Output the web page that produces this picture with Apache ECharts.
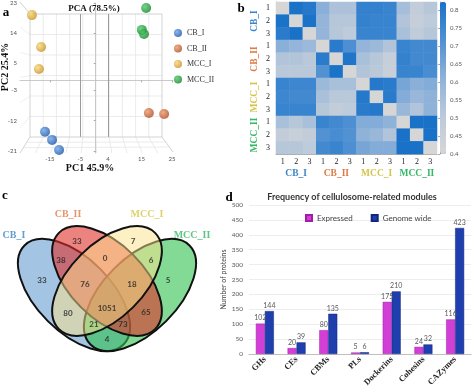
<!DOCTYPE html>
<html><head><meta charset="utf-8">
<script src="https://cdn.jsdelivr.net/npm/echarts@6/dist/echarts.min.js"></script>
<style>html,body{margin:0;padding:0;background:#fff}#c{width:474px;height:391px}</style>
</head><body><div id="c"></div>
<script>
// ---------------- data ----------------
const pcaGroups = ['CB_I', 'CB_II', 'MCC_I', 'MCC_II'];
const pcaCB_I = [[-16.6, -15.3], [-14.3, -17.7], [-12.0, -20.7]];
const pcaCB_II = [[17.4, -9.7], [22.4, -10.0]];
const pcaMCC_I = [[-20.9, 19.4], [-17.9, 9.9], [-18.6, 3.4]];
const pcaMCC_II = [[16.5, 21.5], [15.1, 15.0], [15.8, 13.8]];
const pcaXTicks = [-15, -5, 4, 15, 25];
const pcaYTicks = [-21, -12, -3, 5, 14, 23];

const heatGroups = ['CB_I', 'CB_II', 'MCC_I', 'MCC_II'];
const heatReplicates = ['1', '2', '3'];
const heatMatrix = [
  [0.40, 0.82, 0.80, 0.62, 0.54, 0.54, 0.77, 0.77, 0.76, 0.56, 0.48, 0.52],
  [0.82, 0.40, 0.82, 0.60, 0.52, 0.52, 0.77, 0.76, 0.76, 0.53, 0.47, 0.50],
  [0.79, 0.84, 0.40, 0.60, 0.52, 0.50, 0.76, 0.76, 0.76, 0.55, 0.49, 0.52],
  [0.62, 0.60, 0.58, 0.40, 0.79, 0.72, 0.60, 0.58, 0.53, 0.76, 0.74, 0.74],
  [0.53, 0.53, 0.51, 0.79, 0.40, 0.81, 0.55, 0.52, 0.47, 0.77, 0.74, 0.74],
  [0.51, 0.51, 0.51, 0.71, 0.82, 0.40, 0.53, 0.51, 0.46, 0.76, 0.76, 0.73],
  [0.76, 0.75, 0.75, 0.58, 0.55, 0.55, 0.40, 0.80, 0.79, 0.65, 0.62, 0.63],
  [0.75, 0.74, 0.74, 0.55, 0.51, 0.51, 0.80, 0.40, 0.79, 0.63, 0.59, 0.61],
  [0.76, 0.76, 0.76, 0.52, 0.48, 0.50, 0.79, 0.80, 0.40, 0.59, 0.53, 0.61],
  [0.55, 0.52, 0.55, 0.76, 0.74, 0.72, 0.63, 0.63, 0.61, 0.40, 0.83, 0.83],
  [0.48, 0.46, 0.48, 0.71, 0.73, 0.71, 0.61, 0.59, 0.53, 0.83, 0.40, 0.83],
  [0.52, 0.52, 0.50, 0.74, 0.76, 0.72, 0.65, 0.63, 0.63, 0.83, 0.83, 0.40]
];
const heatScaleTicks = [0.4, 0.45, 0.5, 0.55, 0.6, 0.65, 0.7, 0.75, 0.8];

const vennSets = ['CB_I', 'CB_II', 'MCC_I', 'MCC_II'];
const vennRegions = ['CB_I', 'CB_II', 'MCC_I', 'MCC_II', 'CB_I∩CB_II', 'CB_II∩MCC_I',
  'MCC_I∩MCC_II', 'CB_I∩CB_II∩MCC_I', 'CB_II∩MCC_I∩MCC_II', 'CB_I∩MCC_I', 'all',
  'CB_II∩MCC_II', 'CB_I∩MCC_I∩MCC_II', 'CB_I∩CB_II∩MCC_II', 'CB_I∩MCC_II'];
const vennCounts = [33, 33, 7, 5, 38, 0, 6, 76, 18, 80, 1051, 65, 21, 73, 4];

const modules = ['GHs', 'CEs', 'CBMs', 'PLs', 'Dockerins', 'Cohesins', 'CAZymes'];
const expressed = [102, 20, 80, 5, 175, 24, 116];
const genomeWide = [144, 39, 135, 6, 210, 32, 423];

// ---------------- layout (venn geometry in panel units) ----------------
const vennEllipseLayout = [ // cx, cy, rx, ry, angle(deg, clockwise); draw order CB_I, MCC_II, CB_II, MCC_I
  [74, 100, 70, 37, 45], [140, 100, 70, 37, -45], [107, 86, 68, 37, 45], [107, 86, 68, 37, -45]
];
const vennEllipseSet = [0, 3, 1, 2];
const vennFill = ['rgba(90,147,204,0.55)', 'rgba(224,48,42,0.6)', 'rgba(253,226,140,0.5)', 'rgba(47,194,76,0.6)'];
const vennRegionLayout = [[42, 85], [77, 46], [133, 46], [168, 85], [61, 65], [105, 63], [151, 65],
  [85, 89], [132, 89], [68, 118], [107, 113], [146, 117], [94, 129], [123, 129], [107, 144]];
const vennSetLabelLayout = [[14, 40], [68, 19], [147, 19], [192, 40]];
const setColors = ['#3a86c8', '#df7a45', '#d4c54a', '#35b865'];

const SERIF = 'Liberation Serif';
const SANS = 'Lato';

// ---------------- helpers ----------------
function sphere(light, dark) {
  return { type: 'radial', x: 0.35, y: 0.35, r: 0.75,
    colorStops: [{ offset: 0, color: light }, { offset: 1, color: dark }] };
}
const pcaColors = [sphere('#6aa6ee', '#1a4c9c'), sphere('#ee9a6a', '#a8461c'),
  sphere('#f8d87a', '#c48a1a'), sphere('#4acb66', '#127a28')];
const pcaData = [pcaCB_I, pcaCB_II, pcaMCC_I, pcaMCC_II];

const heatCols = [];
heatGroups.forEach(g => heatReplicates.forEach(r => heatCols.push(g + '-' + r)));
const heatData = [];
heatMatrix.forEach((row, i) => row.forEach((v, j) => heatData.push([j, i, v])));

// 3D box decoration for PCA
const boxG = [];
const wallL = 30, wallR = 162, wallT = 14, wallB = 137, frL = 20, frR = 173, frB = 153;
for (let k = 1; k < 10; k++) {
  const x = wallL + (wallR - wallL) * k / 10;
  boxG.push({ type: 'line', shape: { x1: x, y1: wallT, x2: x, y2: wallB }, style: { stroke: '#e6e6e6', lineWidth: 0.8 }, silent: true });
  const xf = frL + (frR - frL) * k / 10;
  boxG.push({ type: 'line', shape: { x1: x, y1: wallB, x2: xf, y2: frB }, style: { stroke: '#e6e6e6', lineWidth: 0.8 }, silent: true });
}
for (let k = 1; k < 6; k++) {
  const y = wallT + (wallB - wallT) * k / 6;
  boxG.push({ type: 'line', shape: { x1: wallL, y1: y, x2: wallR, y2: y }, style: { stroke: '#e6e6e6', lineWidth: 0.8 }, silent: true });
  boxG.push({ type: 'line', shape: { x1: frL, y1: 2 + (frB - 2) * k / 6, x2: wallL, y2: y }, style: { stroke: '#ececec', lineWidth: 0.8 }, silent: true });
}
for (let k = 1; k < 3; k++) {
  const t = k / 3;
  boxG.push({ type: 'line', shape: { x1: wallL + (frL - wallL) * t, y1: wallB + (frB - wallB) * t, x2: wallR + (frR - wallR) * t, y2: wallB + (frB - 1 - wallB) * t }, style: { stroke: '#e6e6e6', lineWidth: 0.8 }, silent: true });
}
boxG.push({ type: 'rect', shape: { x: wallL, y: wallT, width: wallR - wallL, height: wallB - wallT }, style: { fill: 'none', stroke: '#c8c8c8', lineWidth: 0.8 }, silent: true });
boxG.push({ type: 'polyline', shape: { points: [[frL, 2], [wallL, wallT]] }, style: { stroke: '#c8c8c8', lineWidth: 0.8 }, silent: true });
boxG.push({ type: 'polyline', shape: { points: [[wallL, wallB], [frL, frB]] }, style: { stroke: '#c8c8c8', lineWidth: 0.8 }, silent: true });
boxG.push({ type: 'polyline', shape: { points: [[wallR, wallB], [frR, frB - 1]] }, style: { stroke: '#c8c8c8', lineWidth: 0.8 }, silent: true });

function txt(x, y, text, opt) {
  return Object.assign({ type: 'text', x: x, y: y, silent: true, z: 10,
    style: Object.assign({ text: text, textAlign: 'center', textVerticalAlign: 'middle' }, opt) });
}
const texts = [
  txt(6, 13, 'a', { font: 'bold 13px ' + SERIF }),
  txt(241, 9, 'b', { font: 'bold 13px ' + SERIF }),
  txt(5, 196, 'c', { font: 'bold 13px ' + SERIF }),
  txt(229, 198, 'd', { font: 'bold 13px ' + SERIF }),
  txt(94, 9, 'PCA (78.5%)', { font: 'bold 9px ' + SERIF, fill: '#111' }),
  txt(90, 168, 'PC1 45.9%', { font: 'bold 10px ' + SERIF, fill: '#111' }),
  Object.assign(txt(5, 67, 'PC2 25.4%', { font: 'bold 10px ' + SERIF, fill: '#111' }), { rotation: Math.PI / 2 }),
  txt(352, 197, 'Frequency of cellulosome-related modules', { font: 'bold 9px ' + SANS, fill: '#333' })
];

const chart = echarts.init(document.getElementById('c'), null, { renderer: 'canvas' });
const groupRich = { g0: { color: setColors[0] }, g1: { color: setColors[1] }, g2: { color: setColors[2] }, g3: { color: setColors[3] } };

const option = {
  animation: false,
  backgroundColor: '#fff',
  graphic: boxG.map(g => Object.assign(g, { z: -10 })).concat(texts),
  grid: [
    { left: 20, top: 3, width: 153, height: 150 },
    { left: 276, top: 2, width: 161, height: 152 },
    { left: 440, top: 2, width: 6, height: 152 },
    { left: 0, top: 195, width: 220, height: 170 },
    { left: 249, top: 205, width: 222, height: 149 }
  ],
  legend: [
    { data: pcaGroups, orient: 'vertical', left: 174, top: 29, itemWidth: 8, itemHeight: 8, itemGap: 7.5,
      icon: 'circle', textStyle: { fontFamily: SERIF, fontSize: 8, color: '#333' }, padding: 0 },
    { data: ['Expressed', 'Genome wide'], left: 305, top: 214, itemWidth: 6, itemHeight: 6, itemGap: 18,
      icon: 'rect', textStyle: { fontFamily: SANS, fontSize: 8, color: '#444' }, padding: 0, itemTextGap: 4 }
  ],
  xAxis: [
    { gridIndex: 0, type: 'value', min: -24.8, max: 25.3,
      axisLine: { show: true, lineStyle: { color: '#bdbdbd', width: 0.8 } },
      axisTick: { show: true, customValues: pcaXTicks, length: 2, lineStyle: { color: '#aaa' } },
      axisLabel: { customValues: pcaXTicks, fontSize: 6, color: '#555', margin: 3, fontFamily: SANS },
      splitLine: { show: false } },
    { gridIndex: 1, type: 'category', data: heatCols, position: 'bottom',
      axisLine: { lineStyle: { color: '#aaa' } }, axisTick: { show: true, length: 2, inside: true, alignWithLabel: true, lineStyle: { color: '#aaa' } },
      axisLabel: { interval: 0, formatter: v => v.split('-')[1], fontFamily: SERIF, fontSize: 8, color: '#222', margin: 4 } },
    { gridIndex: 1, type: 'category', data: heatGroups, position: 'bottom', offset: 13,
      axisLine: { show: false }, axisTick: { show: false },
      axisLabel: { interval: 0, fontFamily: SERIF, fontWeight: 'bold', fontSize: 9.5, margin: 2,
        formatter: (v, i) => '{g' + i + '|' + v + '}', rich: groupRich } },
    { gridIndex: 2, type: 'value', show: false, min: 0, max: 1 },
    { gridIndex: 3, type: 'value', show: false, min: 0, max: 220 },
    { gridIndex: 4, type: 'category', data: modules,
      axisLine: { lineStyle: { color: '#bfbfbf' } }, axisTick: { show: false },
      axisLabel: { rotate: 45, interval: 0, fontFamily: SERIF, fontWeight: 'bold', fontSize: 8.5, color: '#222', margin: 4 } }
  ],
  yAxis: [
    { gridIndex: 0, type: 'value', min: -21.6, max: 23,
      axisLine: { show: true, lineStyle: { color: '#bdbdbd', width: 0.8 } },
      axisTick: { show: true, customValues: pcaYTicks, length: 2, lineStyle: { color: '#aaa' } },
      axisLabel: { customValues: pcaYTicks, fontSize: 6, color: '#555', margin: 3, fontFamily: SANS },
      splitLine: { show: false } },
    { gridIndex: 1, type: 'category', data: heatCols, inverse: true,
      axisLine: { lineStyle: { color: '#aaa' } }, axisTick: { show: true, length: 2, inside: true, alignWithLabel: true, lineStyle: { color: '#aaa' } },
      axisLabel: { interval: 0, formatter: v => v.split('-')[1], fontFamily: SERIF, fontSize: 8, color: '#222', margin: 6 } },
    { gridIndex: 1, type: 'category', data: heatGroups, inverse: true, position: 'left', offset: 14,
      axisLine: { show: false }, axisTick: { show: false },
      axisLabel: { interval: 0, rotate: 90, fontFamily: SERIF, fontWeight: 'bold', fontSize: 9.5, margin: 2,
        formatter: (v, i) => '{g' + i + '|' + v + '}', rich: groupRich } },
    { gridIndex: 2, type: 'value', min: 0.4, max: 0.822, position: 'right',
      axisLine: { show: true, lineStyle: { color: '#aaa' } },
      axisTick: { show: true, customValues: heatScaleTicks, length: 2, inside: true, lineStyle: { color: '#aaa' } },
      axisLabel: { customValues: heatScaleTicks, fontSize: 6, color: '#555', margin: 4, fontFamily: SANS },
      splitLine: { show: false } },
    { gridIndex: 3, type: 'value', show: false, min: 0, max: 170, inverse: true },
    { gridIndex: 4, type: 'value', min: 0, max: 500, interval: 50,
      name: 'Number of proteins', nameLocation: 'middle', nameGap: 22,
      nameTextStyle: { fontFamily: SANS, fontSize: 7, color: '#444' },
      axisLine: { show: false }, axisTick: { show: false },
      axisLabel: { fontSize: 6.5, color: '#595959', fontFamily: SANS, margin: 6 },
      splitLine: { lineStyle: { color: '#e8e8e8', width: 0.8 } } }
  ],
  visualMap: {
    type: 'continuous', seriesIndex: 4, dimension: 2, min: 0.4, max: 0.822,
    calculable: false, orient: 'vertical', left: 440, top: 2, itemWidth: 6, itemHeight: 152,
    padding: 0, text: null, showLabel: false, hoverLink: false,
    inRange: { color: ['#d6d6d6', '#bccada', '#8fb2d9', '#4f90d2', '#1a72c8'] },
    outOfRange: { color: '#1a72c8' }
  },
  series: [
    ...pcaGroups.map((g, i) => ({
      type: 'scatter', name: g, xAxisIndex: 0, yAxisIndex: 0, data: pcaData[i],
      symbolSize: 10, itemStyle: { color: pcaColors[i] }, z: 5,
      markLine: i === 0 ? { silent: true, symbol: 'none', label: { show: false },
        lineStyle: { color: '#9a9a9a', width: 1, type: 'solid' },
        data: [[{ coord: [-5, 19.7] }, { coord: [-5, -16.8] }], [{ coord: [4, 19.7] }, { coord: [4, -16.8] }]] } : undefined
    })),
    { type: 'heatmap', xAxisIndex: 1, yAxisIndex: 1, data: heatData, itemStyle: { borderWidth: 0 } },
    { type: 'custom', xAxisIndex: 4, yAxisIndex: 4, data: vennEllipseLayout, z: 2,
      renderItem: (params, api) => {
        const c = api.coord([api.value(0), api.value(1)]);
        const s = api.size([api.value(2), api.value(3)]);
        return { type: 'ellipse', x: c[0], y: c[1], rotation: -api.value(4) * Math.PI / 180,
          shape: { cx: 0, cy: 0, rx: Math.abs(s[0]), ry: Math.abs(s[1]) },
          style: { fill: vennFill[vennEllipseSet[params.dataIndex]], stroke: '#111', lineWidth: 2 } };
      } },
    { type: 'scatter', xAxisIndex: 4, yAxisIndex: 4, symbolSize: 0, z: 6, silent: true,
      data: vennRegionLayout.map((p, i) => ({ value: p, name: vennRegions[i] })),
      label: { show: true, position: 'inside', formatter: p => String(vennCounts[p.dataIndex]),
        fontFamily: SANS, fontWeight: 'bold', fontSize: 8, color: '#222' } },
    { type: 'scatter', xAxisIndex: 4, yAxisIndex: 4, symbolSize: 0, z: 6, silent: true,
      data: vennSetLabelLayout.map((p, i) => ({ value: p, name: vennSets[i],
        label: { color: setColors[i] } })),
      label: { show: true, position: 'inside', formatter: p => vennSets[p.dataIndex],
        fontFamily: SERIF, fontWeight: 'bold', fontSize: 10 } },
    { type: 'bar', name: 'Expressed', xAxisIndex: 5, yAxisIndex: 5, data: expressed,
      barWidth: 9, barGap: '0%', itemStyle: { color: '#d23fd6', borderColor: '#a01fa6', borderWidth: 0.5 },
      label: { show: true, position: 'top', distance: 2, fontSize: 7, color: '#595959', fontFamily: SANS } },
    { type: 'bar', name: 'Genome wide', xAxisIndex: 5, yAxisIndex: 5, data: genomeWide,
      barWidth: 9, itemStyle: { color: '#1f3fae', borderColor: '#12277a', borderWidth: 0.5 },
      label: { show: true, position: 'top', distance: 2, fontSize: 7, color: '#595959', fontFamily: SANS } }
  ]
};
chart.setOption(option);
</script></body></html>
